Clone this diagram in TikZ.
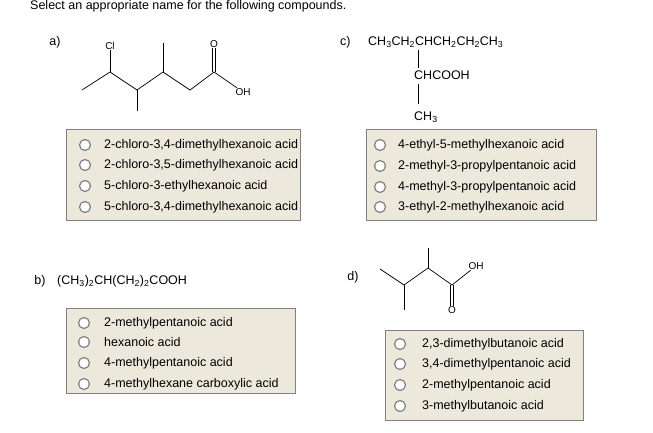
\documentclass[tikz,border=0pt]{standalone}
\usepackage{fontspec}
\setmainfont{Liberation Sans}
\begin{document}
\begin{tikzpicture}[x=1pt,y=-1pt,font=\fontsize{12.5}{14}\selectfont,
  optbox/.style={draw=black!50,fill={rgb,255:red,236;green,233;blue,220},line width=1pt},
  radio/.style={circle,draw=black!50,fill=white,line width=1.2pt,minimum size=11pt,inner sep=0pt},
  opt/.style={anchor=west,inner sep=0pt},
  bond/.style={line width=0.7pt},
  atom/.style={inner sep=0.5pt,font=\fontsize{10}{11}\selectfont}]
\useasboundingbox (0,0) rectangle (653,433);
\node[anchor=west,inner sep=0] (title) at (30,6) {Select an appropriate name for the following compounds.};
% labels
\node (la) at (55,42) {a)};
\node (lb) at (40,281) {b)};
\node (ld) at (353,277) {d)};
% a) structure
\coordinate (a1) at (82,90); \coordinate (a2) at (110,72); \coordinate (a3) at (137,90);
\coordinate (a4) at (163,72); \coordinate (a5) at (190,90); \coordinate (a6) at (214,72);
\coordinate (a3m) at (137,111); \coordinate (a4m) at (163,43);
\node[atom] (cl) at (110,46) {Cl};
\node[atom] (ao) at (214,44) {O};
\node[atom] (aoh) at (243,92) {OH};
\draw[bond] (a1)--(a2)--(a3)--(a4)--(a5)--(a6)--(aoh);
\draw[bond] (a2)--(cl); \draw[bond] (a3)--(a3m); \draw[bond] (a4)--(a4m);
\draw[bond] ([xshift=-1.3pt]a6)--([xshift=-1.3pt]ao.south);
\draw[bond] ([xshift=1.3pt]a6)--([xshift=1.3pt]ao.south);
% a) options
\draw[optbox] (66,130) rectangle (300,220);
\foreach \y/\t [count=\i] in {145/{2-chloro-3,4-dimethylhexanoic acid},165/{2-chloro-3,5-dimethylhexanoic acid},186/{5-chloro-3-ethylhexanoic acid},207/{5-chloro-3,4-dimethylhexanoic acid}}{
  \node[radio] (ra\i) at (85,\y) {};
  \node[opt] (ta\i) at (104,\y) {\t};}
% c) formula
\node[anchor=west,inner sep=0] (lc) at (340,42) {c)};
\node[anchor=west,inner sep=0] (cf) at (368,42) {CH\textsubscript{3}CH\textsubscript{2}CHCH\textsubscript{2}CH\textsubscript{2}CH\textsubscript{3}};
\node[anchor=west,inner sep=0] (cc) at (414,75) {CHCOOH};
\node[anchor=west,inner sep=0] (cm) at (414,117) {CH\textsubscript{3}};
\draw[bond] (418,50)--(418,68);
\draw[bond] (418,84)--(418,104);
\draw[optbox] (366,130) rectangle (596,220);
\foreach \y/\t [count=\i] in {145/{4-ethyl-5-methylhexanoic acid},166/{2-methyl-3-propylpentanoic acid},187/{4-methyl-3-propylpentanoic acid},207/{3-ethyl-2-methylhexanoic acid}}{
  \node[radio] (rc\i) at (380,\y) {};
  \node[opt] (tc\i) at (398,\y) {\t};}
% b)
\node[anchor=west,inner sep=0] (bf) at (57,281) {(CH\textsubscript{3})\textsubscript{2}CH(CH\textsubscript{2})\textsubscript{2}COOH};
\draw[optbox] (66,308) rectangle (295,393);
\foreach \y/\t [count=\i] in {323/{2-methylpentanoic acid},342/{hexanoic acid},363/{4-methylpentanoic acid},384/{4-methylhexane carboxylic acid}}{
  \node[radio] (rb\i) at (84,\y) {};
  \node[opt] (tb\i) at (104,\y) {\t};}
% d) structure
\coordinate (d1) at (380,269); \coordinate (d2) at (404,285); \coordinate (d2m) at (404,310);
\coordinate (d3) at (428,268); \coordinate (d3m) at (428,248); \coordinate (d4) at (452,285);
\node[atom] (dO) at (452,310) {O};
\node[atom] (doh) at (476,266) {OH};
\draw[bond] (d1)--(d2)--(d3)--(d4)--(doh);
\draw[bond] (d2)--(d2m); \draw[bond] (d3)--(d3m);
\draw[bond] ([xshift=-1.3pt]d4)--([xshift=-1.3pt]dO.north);
\draw[bond] ([xshift=1.3pt]d4)--([xshift=1.3pt]dO.north);
\draw[optbox] (385,330) rectangle (583,420);
\foreach \y/\t [count=\i] in {344/{2,3-dimethylbutanoic acid},364/{3,4-dimethylpentanoic acid},385/{2-methylpentanoic acid},406/{3-methylbutanoic acid}}{
  \node[radio] (rd\i) at (400,\y) {};
  \node[opt] (td\i) at (422,\y) {\t};}
\end{tikzpicture}
\end{document}
